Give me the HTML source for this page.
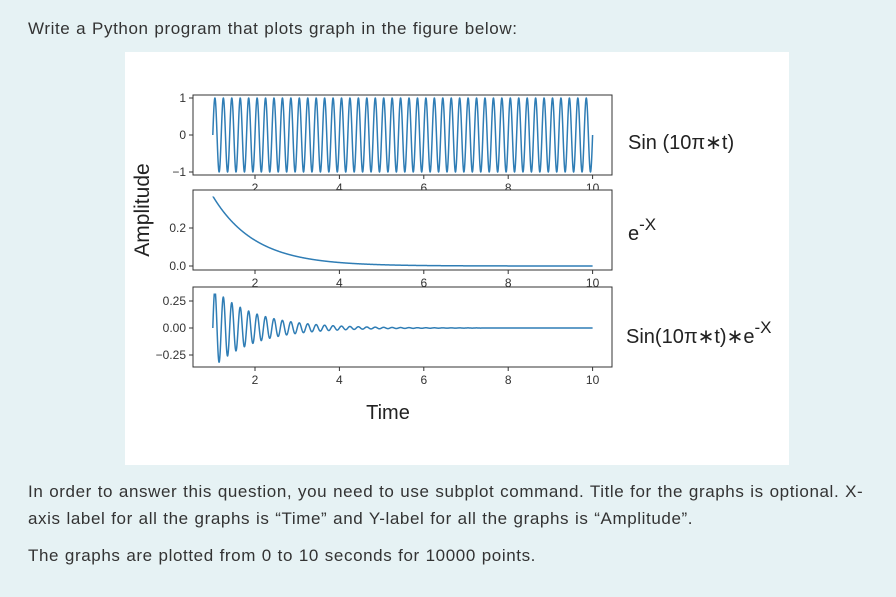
<!DOCTYPE html>
<html><head><meta charset="utf-8">
<style>
html,body{margin:0;padding:0;width:896px;height:597px;background:#e6f2f4;overflow:hidden;font-family:"Liberation Sans",sans-serif;color:#333}
.t{position:absolute;left:28px;font-size:17px;letter-spacing:0.6px;word-spacing:0.5px;white-space:nowrap}
#chart{position:absolute;left:125px;top:52px;width:664px;height:413px;background:#fff}
</style></head><body>
<div class="t" style="top:19px">Write a Python program that plots graph in the figure below:</div>
<div id="chart">
<svg id="svg" width="664" height="413" viewBox="125 52 664 413" xmlns="http://www.w3.org/2000/svg" font-family="Liberation Sans, sans-serif">
<text x="149" y="210" font-size="21" fill="#222" text-anchor="middle" transform="rotate(-90 149 210)">Amplitude</text>
<text x="388" y="419" font-size="20" fill="#222" text-anchor="middle">Time</text>
<text x="628" y="149" font-size="20" fill="#222">Sin (10π∗t)</text>
<text x="628" y="240" font-size="20" fill="#222">e<tspan dy="-10" font-size="17">-X</tspan></text>
<text x="626" y="343" font-size="20" fill="#222">Sin(10π∗t)∗e<tspan dy="-10" font-size="17">-X</tspan></text>
</svg></div>
<div class="t" style="top:482px">In order to answer this question, you need to use subplot command. Title for the graphs is optional. X-</div>
<div class="t" style="top:509px">axis label for all the graphs is “Time” and Y-label for all the graphs is “Amplitude”.</div>
<div class="t" style="top:546px">The graphs are plotted from 0 to 10 seconds for 10000 points.</div>
<script>
const xTicks=[2,4,6,8,10];
const tStart=1, tEnd=10, nPoints=2000;
const sinFreq=[5];
const yTicks1=[1,0,-1], yLabels1=["1","0","−1"];
const yTicks2=[0.2,0.0], yLabels2=["0.2","0.0"];
const yTicks3=[0.25,0,-0.25], yLabels3=["0.25","0.00","−0.25"];
const NS="http://www.w3.org/2000/svg";
const svg=document.getElementById('svg');
function X(v){return 170.6+v*42.2;}
function mk(tag,attrs,parent){const e=document.createElementNS(NS,tag);for(const k in attrs)e.setAttribute(k,attrs[k]);(parent||svg).appendChild(e);return e;}
const panels=[
 {top:95,bot:175,y:v=>135-v*37,ticks:yTicks1,labels:yLabels1,f:t=>Math.sin(2*Math.PI*sinFreq[0]*t),name:'sin'},
 {top:190,bot:270,y:v=>266-v*190,ticks:yTicks2,labels:yLabels2,f:t=>Math.exp(-t),name:'exp'},
 {top:287,bot:367,y:v=>328-v*108,ticks:yTicks3,labels:yLabels3,f:t=>Math.sin(2*Math.PI*sinFreq[0]*t)*Math.exp(-t),name:'product'}
];
panels.forEach((p,i)=>{
 const g=mk('g',{});
 
 
 xTicks.forEach(v=>{
  const tk=mk('line',{x1:X(v),x2:X(v),y1:p.bot,y2:p.bot+4,stroke:'#333','stroke-width':1},g);
  
  
  const tl=mk('text',{x:X(v),y:p.bot+17,'font-size':12,fill:'#333','text-anchor':'middle'},g);
  tl.textContent=v;
  
  
 });
 p.ticks.forEach((v,j)=>{
  const y=p.y(v);
  const tk=mk('line',{x1:189,x2:193,y1:y,y2:y,stroke:'#333','stroke-width':1},g);
  
  
  const tl=mk('text',{x:186,y:y+4,'font-size':12,fill:'#333','text-anchor':'end'},g);
  tl.textContent=p.labels[j];
  
  
 });
 let d='';
 for(let k=0;k<=nPoints;k++){const t=tStart+(tEnd-tStart)*k/nPoints;d+=(k?'L':'M')+X(t).toFixed(2)+' '+p.y(p.f(t)).toFixed(2);}
 const ln=mk('path',{d:d,fill:'none',stroke:'#2f7db5','stroke-width':1.5,'stroke-linejoin':'round'},g);
 
 
 const fr=mk('rect',{x:193,y:p.top,width:419,height:p.bot-p.top,fill:'none',stroke:'#333','stroke-width':1},g);
 
 
});
[190,287].forEach(t=>{
 const c=mk('rect',{x:193.5,y:t+0.5,width:418,height:6,fill:'#fff'});
 
 
});
</script>
</body></html>
